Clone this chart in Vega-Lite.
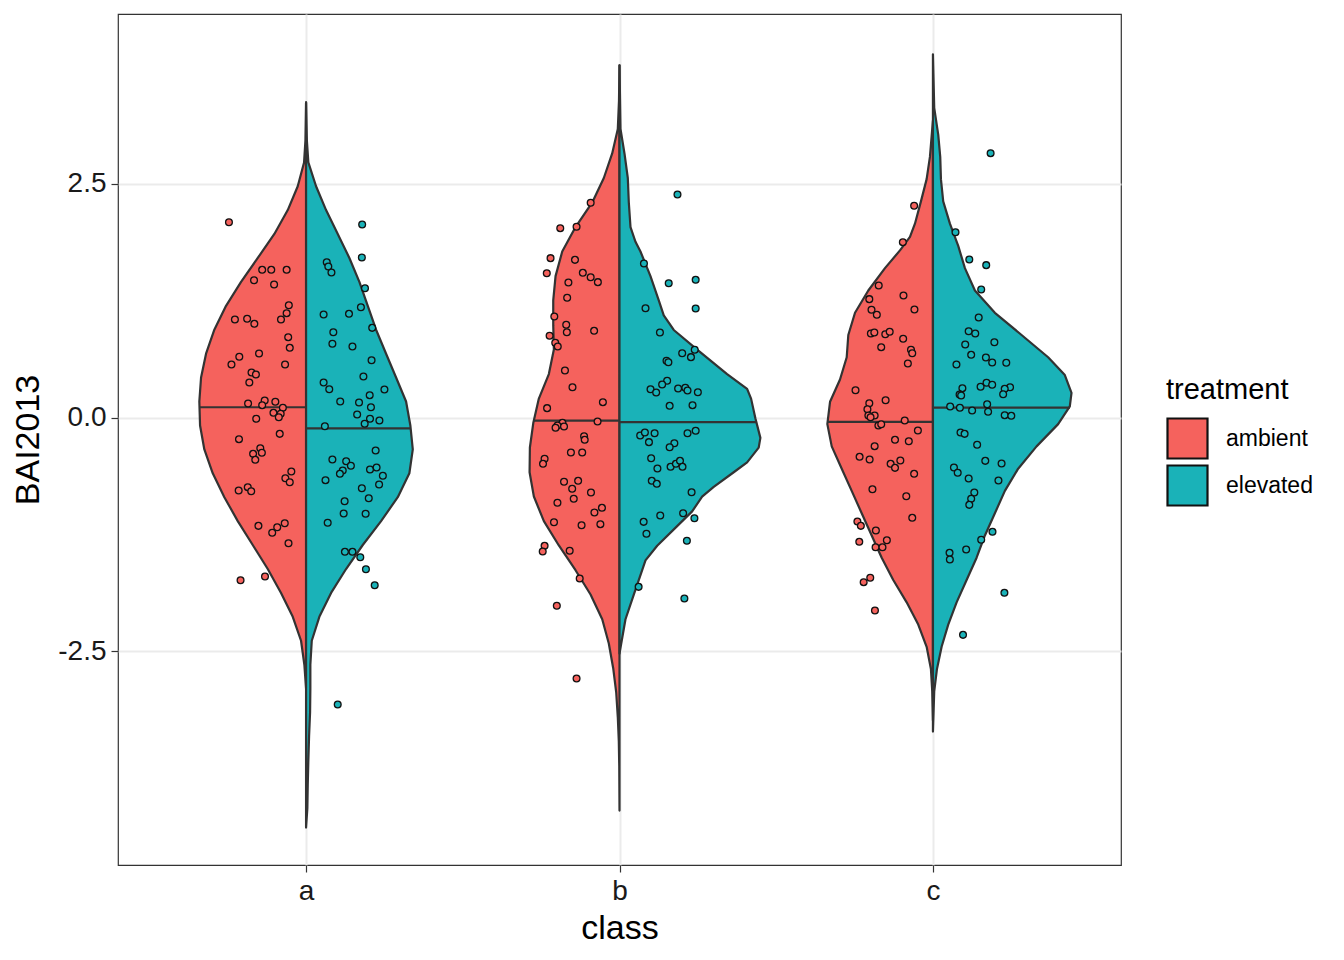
{
  "$schema": "https://vega.github.io/schema/vega-lite/v6.json",
  "width": 1003,
  "height": 851,
  "autosize": "none",
  "padding": {"left": 118, "top": 14, "right": 223, "bottom": 95},
  "background": "white",
  "config": {
    "font": "Liberation Sans",
    "view": {"stroke": "#333333", "strokeWidth": 1.2},
    "axis": {
      "grid": true,
      "gridColor": "#EBEBEB",
      "gridWidth": 2,
      "domain": false,
      "tickColor": "#333333",
      "tickSize": 7,
      "tickWidth": 1.2,
      "labelFontSize": 28,
      "labelColor": "#1a1a1a",
      "titleFontSize": 34,
      "titleFontWeight": "normal",
      "titleColor": "#000000"
    }
  },
  "datasets": {
    "violin": [
      {"class": "a", "treatment": "ambient", "value": 3.373, "edge": 1.0, "centre": 1},
      {"class": "a", "treatment": "ambient", "value": 2.966, "edge": 0.998, "centre": 1},
      {"class": "a", "treatment": "ambient", "value": 2.730, "edge": 0.9936, "centre": 1},
      {"class": "a", "treatment": "ambient", "value": 2.476, "edge": 0.9735, "centre": 1},
      {"class": "a", "treatment": "ambient", "value": 2.221, "edge": 0.9416, "centre": 1},
      {"class": "a", "treatment": "ambient", "value": 1.965, "edge": 0.8989, "centre": 1},
      {"class": "a", "treatment": "ambient", "value": 1.708, "edge": 0.8459, "centre": 1},
      {"class": "a", "treatment": "ambient", "value": 1.452, "edge": 0.7926, "centre": 1},
      {"class": "a", "treatment": "ambient", "value": 1.196, "edge": 0.7447, "centre": 1},
      {"class": "a", "treatment": "ambient", "value": 0.940, "edge": 0.7074, "centre": 1},
      {"class": "a", "treatment": "ambient", "value": 0.683, "edge": 0.6809, "centre": 1},
      {"class": "a", "treatment": "ambient", "value": 0.428, "edge": 0.6650, "centre": 1},
      {"class": "a", "treatment": "ambient", "value": 0.171, "edge": 0.6595, "centre": 1},
      {"class": "a", "treatment": "ambient", "value": -0.086, "edge": 0.6618, "centre": 1},
      {"class": "a", "treatment": "ambient", "value": -0.342, "edge": 0.6755, "centre": 1},
      {"class": "a", "treatment": "ambient", "value": -0.597, "edge": 0.7023, "centre": 1},
      {"class": "a", "treatment": "ambient", "value": -0.853, "edge": 0.7393, "centre": 1},
      {"class": "a", "treatment": "ambient", "value": -1.109, "edge": 0.7821, "centre": 1},
      {"class": "a", "treatment": "ambient", "value": -1.365, "edge": 0.8299, "centre": 1},
      {"class": "a", "treatment": "ambient", "value": -1.622, "edge": 0.8778, "centre": 1},
      {"class": "a", "treatment": "ambient", "value": -1.878, "edge": 0.9202, "centre": 1},
      {"class": "a", "treatment": "ambient", "value": -2.134, "edge": 0.9576, "centre": 1},
      {"class": "a", "treatment": "ambient", "value": -2.390, "edge": 0.9840, "centre": 1},
      {"class": "a", "treatment": "ambient", "value": -2.647, "edge": 0.9946, "centre": 1},
      {"class": "a", "treatment": "ambient", "value": -2.902, "edge": 1.0, "centre": 1},
      {"class": "a", "treatment": "elevated", "value": 3.373, "edge": 1.0, "centre": 1},
      {"class": "a", "treatment": "elevated", "value": 2.966, "edge": 1.0026, "centre": 1},
      {"class": "a", "treatment": "elevated", "value": 2.732, "edge": 1.0073, "centre": 1},
      {"class": "a", "treatment": "elevated", "value": 2.476, "edge": 1.0319, "centre": 1},
      {"class": "a", "treatment": "elevated", "value": 2.221, "edge": 1.0638, "centre": 1},
      {"class": "a", "treatment": "elevated", "value": 1.965, "edge": 1.1011, "centre": 1},
      {"class": "a", "treatment": "elevated", "value": 1.708, "edge": 1.1382, "centre": 1},
      {"class": "a", "treatment": "elevated", "value": 1.452, "edge": 1.1701, "centre": 1},
      {"class": "a", "treatment": "elevated", "value": 1.196, "edge": 1.1969, "centre": 1},
      {"class": "a", "treatment": "elevated", "value": 0.940, "edge": 1.2234, "centre": 1},
      {"class": "a", "treatment": "elevated", "value": 0.683, "edge": 1.2553, "centre": 1},
      {"class": "a", "treatment": "elevated", "value": 0.428, "edge": 1.2872, "centre": 1},
      {"class": "a", "treatment": "elevated", "value": 0.171, "edge": 1.3191, "centre": 1},
      {"class": "a", "treatment": "elevated", "value": -0.086, "edge": 1.3328, "centre": 1},
      {"class": "a", "treatment": "elevated", "value": -0.342, "edge": 1.3405, "centre": 1},
      {"class": "a", "treatment": "elevated", "value": -0.597, "edge": 1.3296, "centre": 1},
      {"class": "a", "treatment": "elevated", "value": -0.853, "edge": 1.2926, "centre": 1},
      {"class": "a", "treatment": "elevated", "value": -1.109, "edge": 1.2393, "centre": 1},
      {"class": "a", "treatment": "elevated", "value": -1.365, "edge": 1.1809, "centre": 1},
      {"class": "a", "treatment": "elevated", "value": -1.622, "edge": 1.1276, "centre": 1},
      {"class": "a", "treatment": "elevated", "value": -1.878, "edge": 1.0798, "centre": 1},
      {"class": "a", "treatment": "elevated", "value": -2.134, "edge": 1.0424, "centre": 1},
      {"class": "a", "treatment": "elevated", "value": -2.390, "edge": 1.0182, "centre": 1},
      {"class": "a", "treatment": "elevated", "value": -2.647, "edge": 1.0137, "centre": 1},
      {"class": "a", "treatment": "elevated", "value": -2.902, "edge": 1.0137, "centre": 1},
      {"class": "a", "treatment": "elevated", "value": -3.158, "edge": 1.0128, "centre": 1},
      {"class": "a", "treatment": "elevated", "value": -3.415, "edge": 1.0096, "centre": 1},
      {"class": "a", "treatment": "elevated", "value": -3.672, "edge": 1.0073, "centre": 1},
      {"class": "a", "treatment": "elevated", "value": -3.929, "edge": 1.0054, "centre": 1},
      {"class": "a", "treatment": "elevated", "value": -4.186, "edge": 1.0041, "centre": 1},
      {"class": "a", "treatment": "elevated", "value": -4.390, "edge": 1.0, "centre": 1},
      {"class": "b", "treatment": "ambient", "value": 3.771, "edge": 2.0, "centre": 2},
      {"class": "b", "treatment": "ambient", "value": 3.394, "edge": 1.9984, "centre": 2},
      {"class": "b", "treatment": "ambient", "value": 3.089, "edge": 1.9946, "centre": 2},
      {"class": "b", "treatment": "ambient", "value": 2.827, "edge": 1.9767, "centre": 2},
      {"class": "b", "treatment": "ambient", "value": 2.564, "edge": 1.9500, "centre": 2},
      {"class": "b", "treatment": "ambient", "value": 2.302, "edge": 1.9130, "centre": 2},
      {"class": "b", "treatment": "ambient", "value": 2.039, "edge": 1.8597, "centre": 2},
      {"class": "b", "treatment": "ambient", "value": 1.777, "edge": 1.8173, "centre": 2},
      {"class": "b", "treatment": "ambient", "value": 1.514, "edge": 1.7960, "centre": 2},
      {"class": "b", "treatment": "ambient", "value": 1.253, "edge": 1.7886, "centre": 2},
      {"class": "b", "treatment": "ambient", "value": 0.989, "edge": 1.7886, "centre": 2},
      {"class": "b", "treatment": "ambient", "value": 0.728, "edge": 1.7906, "centre": 2},
      {"class": "b", "treatment": "ambient", "value": 0.465, "edge": 1.7746, "centre": 2},
      {"class": "b", "treatment": "ambient", "value": 0.203, "edge": 1.7427, "centre": 2},
      {"class": "b", "treatment": "ambient", "value": -0.060, "edge": 1.7249, "centre": 2},
      {"class": "b", "treatment": "ambient", "value": -0.321, "edge": 1.7141, "centre": 2},
      {"class": "b", "treatment": "ambient", "value": -0.586, "edge": 1.7131, "centre": 2},
      {"class": "b", "treatment": "ambient", "value": -0.846, "edge": 1.7268, "centre": 2},
      {"class": "b", "treatment": "ambient", "value": -1.110, "edge": 1.7587, "centre": 2},
      {"class": "b", "treatment": "ambient", "value": -1.370, "edge": 1.8065, "centre": 2},
      {"class": "b", "treatment": "ambient", "value": -1.635, "edge": 1.8597, "centre": 2},
      {"class": "b", "treatment": "ambient", "value": -1.895, "edge": 1.9076, "centre": 2},
      {"class": "b", "treatment": "ambient", "value": -2.159, "edge": 1.9449, "centre": 2},
      {"class": "b", "treatment": "ambient", "value": -2.420, "edge": 1.9659, "centre": 2},
      {"class": "b", "treatment": "ambient", "value": -2.684, "edge": 1.9799, "centre": 2},
      {"class": "b", "treatment": "ambient", "value": -2.944, "edge": 1.9895, "centre": 2},
      {"class": "b", "treatment": "ambient", "value": -3.210, "edge": 1.9946, "centre": 2},
      {"class": "b", "treatment": "ambient", "value": -3.469, "edge": 1.9978, "centre": 2},
      {"class": "b", "treatment": "ambient", "value": -3.734, "edge": 1.9992, "centre": 2},
      {"class": "b", "treatment": "ambient", "value": -4.208, "edge": 2.0, "centre": 2},
      {"class": "b", "treatment": "elevated", "value": 3.771, "edge": 2.0, "centre": 2},
      {"class": "b", "treatment": "elevated", "value": 3.089, "edge": 2.0032, "centre": 2},
      {"class": "b", "treatment": "elevated", "value": 2.827, "edge": 2.0159, "centre": 2},
      {"class": "b", "treatment": "elevated", "value": 2.564, "edge": 2.0265, "centre": 2},
      {"class": "b", "treatment": "elevated", "value": 2.302, "edge": 2.0297, "centre": 2},
      {"class": "b", "treatment": "elevated", "value": 2.039, "edge": 2.0351, "centre": 2},
      {"class": "b", "treatment": "elevated", "value": 1.881, "edge": 2.0510, "centre": 2},
      {"class": "b", "treatment": "elevated", "value": 1.777, "edge": 2.0669, "centre": 2},
      {"class": "b", "treatment": "elevated", "value": 1.514, "edge": 2.0988, "centre": 2},
      {"class": "b", "treatment": "elevated", "value": 1.253, "edge": 2.1253, "centre": 2},
      {"class": "b", "treatment": "elevated", "value": 1.094, "edge": 2.1412, "centre": 2},
      {"class": "b", "treatment": "elevated", "value": 0.937, "edge": 2.1731, "centre": 2},
      {"class": "b", "treatment": "elevated", "value": 0.727, "edge": 2.2477, "centre": 2},
      {"class": "b", "treatment": "elevated", "value": 0.465, "edge": 2.3433, "centre": 2},
      {"class": "b", "treatment": "elevated", "value": 0.307, "edge": 2.4071, "centre": 2},
      {"class": "b", "treatment": "elevated", "value": 0.202, "edge": 2.4198, "centre": 2},
      {"class": "b", "treatment": "elevated", "value": -0.007, "edge": 2.4335, "centre": 2},
      {"class": "b", "treatment": "elevated", "value": -0.218, "edge": 2.4495, "centre": 2},
      {"class": "b", "treatment": "elevated", "value": -0.323, "edge": 2.4441, "centre": 2},
      {"class": "b", "treatment": "elevated", "value": -0.481, "edge": 2.4071, "centre": 2},
      {"class": "b", "treatment": "elevated", "value": -0.586, "edge": 2.3644, "centre": 2},
      {"class": "b", "treatment": "elevated", "value": -0.743, "edge": 2.3006, "centre": 2},
      {"class": "b", "treatment": "elevated", "value": -0.848, "edge": 2.2636, "centre": 2},
      {"class": "b", "treatment": "elevated", "value": -1.005, "edge": 2.2318, "centre": 2},
      {"class": "b", "treatment": "elevated", "value": -1.163, "edge": 2.1839, "centre": 2},
      {"class": "b", "treatment": "elevated", "value": -1.373, "edge": 2.1202, "centre": 2},
      {"class": "b", "treatment": "elevated", "value": -1.530, "edge": 2.0829, "centre": 2},
      {"class": "b", "treatment": "elevated", "value": -1.687, "edge": 2.0669, "centre": 2},
      {"class": "b", "treatment": "elevated", "value": -1.897, "edge": 2.0456, "centre": 2},
      {"class": "b", "treatment": "elevated", "value": -2.160, "edge": 2.0191, "centre": 2},
      {"class": "b", "treatment": "elevated", "value": -2.422, "edge": 2.0054, "centre": 2},
      {"class": "b", "treatment": "elevated", "value": -2.527, "edge": 2.0, "centre": 2},
      {"class": "c", "treatment": "ambient", "value": 3.180, "edge": 3.0, "centre": 3},
      {"class": "c", "treatment": "ambient", "value": 2.790, "edge": 2.9904, "centre": 3},
      {"class": "c", "treatment": "ambient", "value": 2.552, "edge": 2.9799, "centre": 3},
      {"class": "c", "treatment": "ambient", "value": 2.314, "edge": 2.9617, "centre": 3},
      {"class": "c", "treatment": "ambient", "value": 2.075, "edge": 2.9426, "centre": 3},
      {"class": "c", "treatment": "ambient", "value": 1.933, "edge": 2.9267, "centre": 3},
      {"class": "c", "treatment": "ambient", "value": 1.789, "edge": 2.8948, "centre": 3},
      {"class": "c", "treatment": "ambient", "value": 1.599, "edge": 2.8470, "centre": 3},
      {"class": "c", "treatment": "ambient", "value": 1.360, "edge": 2.7938, "centre": 3},
      {"class": "c", "treatment": "ambient", "value": 1.121, "edge": 2.7514, "centre": 3},
      {"class": "c", "treatment": "ambient", "value": 0.883, "edge": 2.7300, "centre": 3},
      {"class": "c", "treatment": "ambient", "value": 0.645, "edge": 2.7249, "centre": 3},
      {"class": "c", "treatment": "ambient", "value": 0.407, "edge": 2.7035, "centre": 3},
      {"class": "c", "treatment": "ambient", "value": 0.168, "edge": 2.6717, "centre": 3},
      {"class": "c", "treatment": "ambient", "value": -0.071, "edge": 2.6631, "centre": 3},
      {"class": "c", "treatment": "ambient", "value": -0.309, "edge": 2.6771, "centre": 3},
      {"class": "c", "treatment": "ambient", "value": -0.548, "edge": 2.7090, "centre": 3},
      {"class": "c", "treatment": "ambient", "value": -0.786, "edge": 2.7408, "centre": 3},
      {"class": "c", "treatment": "ambient", "value": -1.025, "edge": 2.7727, "centre": 3},
      {"class": "c", "treatment": "ambient", "value": -1.263, "edge": 2.8046, "centre": 3},
      {"class": "c", "treatment": "ambient", "value": -1.501, "edge": 2.8365, "centre": 3},
      {"class": "c", "treatment": "ambient", "value": -1.740, "edge": 2.8734, "centre": 3},
      {"class": "c", "treatment": "ambient", "value": -1.979, "edge": 2.9162, "centre": 3},
      {"class": "c", "treatment": "ambient", "value": -2.217, "edge": 2.9531, "centre": 3},
      {"class": "c", "treatment": "ambient", "value": -2.455, "edge": 2.9799, "centre": 3},
      {"class": "c", "treatment": "ambient", "value": -2.694, "edge": 2.9936, "centre": 3},
      {"class": "c", "treatment": "ambient", "value": -2.933, "edge": 2.9978, "centre": 3},
      {"class": "c", "treatment": "ambient", "value": -3.244, "edge": 3.0, "centre": 3},
      {"class": "c", "treatment": "elevated", "value": 3.888, "edge": 3.0, "centre": 3},
      {"class": "c", "treatment": "elevated", "value": 3.315, "edge": 3.0041, "centre": 3},
      {"class": "c", "treatment": "elevated", "value": 3.029, "edge": 3.0169, "centre": 3},
      {"class": "c", "treatment": "elevated", "value": 2.790, "edge": 3.0233, "centre": 3},
      {"class": "c", "treatment": "elevated", "value": 2.552, "edge": 3.0255, "centre": 3},
      {"class": "c", "treatment": "elevated", "value": 2.314, "edge": 3.0328, "centre": 3},
      {"class": "c", "treatment": "elevated", "value": 2.075, "edge": 3.0542, "centre": 3},
      {"class": "c", "treatment": "elevated", "value": 1.837, "edge": 3.0807, "centre": 3},
      {"class": "c", "treatment": "elevated", "value": 1.599, "edge": 3.1020, "centre": 3},
      {"class": "c", "treatment": "elevated", "value": 1.360, "edge": 3.1339, "centre": 3},
      {"class": "c", "treatment": "elevated", "value": 1.121, "edge": 3.1976, "centre": 3},
      {"class": "c", "treatment": "elevated", "value": 0.883, "edge": 3.2828, "centre": 3},
      {"class": "c", "treatment": "elevated", "value": 0.645, "edge": 3.3675, "centre": 3},
      {"class": "c", "treatment": "elevated", "value": 0.454, "edge": 3.4208, "centre": 3},
      {"class": "c", "treatment": "elevated", "value": 0.263, "edge": 3.4421, "centre": 3},
      {"class": "c", "treatment": "elevated", "value": 0.120, "edge": 3.4367, "centre": 3},
      {"class": "c", "treatment": "elevated", "value": -0.071, "edge": 3.3994, "centre": 3},
      {"class": "c", "treatment": "elevated", "value": -0.309, "edge": 3.3306, "centre": 3},
      {"class": "c", "treatment": "elevated", "value": -0.548, "edge": 3.2719, "centre": 3},
      {"class": "c", "treatment": "elevated", "value": -0.786, "edge": 3.2295, "centre": 3},
      {"class": "c", "treatment": "elevated", "value": -1.025, "edge": 3.1976, "centre": 3},
      {"class": "c", "treatment": "elevated", "value": -1.263, "edge": 3.1658, "centre": 3},
      {"class": "c", "treatment": "elevated", "value": -1.501, "edge": 3.1393, "centre": 3},
      {"class": "c", "treatment": "elevated", "value": -1.740, "edge": 3.1074, "centre": 3},
      {"class": "c", "treatment": "elevated", "value": -1.979, "edge": 3.0755, "centre": 3},
      {"class": "c", "treatment": "elevated", "value": -2.217, "edge": 3.0488, "centre": 3},
      {"class": "c", "treatment": "elevated", "value": -2.455, "edge": 3.0277, "centre": 3},
      {"class": "c", "treatment": "elevated", "value": -2.694, "edge": 3.0128, "centre": 3},
      {"class": "c", "treatment": "elevated", "value": -2.933, "edge": 3.0041, "centre": 3},
      {"class": "c", "treatment": "elevated", "value": -3.362, "edge": 3.0, "centre": 3}
    ],
    "medians": [
      {"class": "a", "treatment": "ambient", "value": 0.110, "edge": 0.660, "centre": 1},
      {"class": "a", "treatment": "elevated", "value": -0.116, "edge": 1.334, "centre": 1},
      {"class": "b", "treatment": "ambient", "value": -0.034, "edge": 1.727, "centre": 2},
      {"class": "b", "treatment": "elevated", "value": -0.050, "edge": 2.436, "centre": 2},
      {"class": "c", "treatment": "ambient", "value": -0.047, "edge": 2.664, "centre": 3},
      {"class": "c", "treatment": "elevated", "value": 0.106, "edge": 3.437, "centre": 3}
    ],
    "points": [
      {"class": "a", "treatment": "ambient", "x": 0.754, "value": 2.091},
      {"class": "a", "treatment": "ambient", "x": 0.860, "value": 1.581},
      {"class": "a", "treatment": "ambient", "x": 0.889, "value": 1.581},
      {"class": "a", "treatment": "ambient", "x": 0.938, "value": 1.581},
      {"class": "a", "treatment": "ambient", "x": 0.834, "value": 1.470},
      {"class": "a", "treatment": "ambient", "x": 0.898, "value": 1.424},
      {"class": "a", "treatment": "ambient", "x": 0.945, "value": 1.202},
      {"class": "a", "treatment": "ambient", "x": 0.938, "value": 1.117},
      {"class": "a", "treatment": "ambient", "x": 0.920, "value": 1.049},
      {"class": "a", "treatment": "ambient", "x": 0.773, "value": 1.049},
      {"class": "a", "treatment": "ambient", "x": 0.812, "value": 1.057},
      {"class": "a", "treatment": "ambient", "x": 0.835, "value": 1.003},
      {"class": "a", "treatment": "ambient", "x": 0.943, "value": 0.860},
      {"class": "a", "treatment": "ambient", "x": 0.948, "value": 0.746},
      {"class": "a", "treatment": "ambient", "x": 0.850, "value": 0.685},
      {"class": "a", "treatment": "ambient", "x": 0.787, "value": 0.650},
      {"class": "a", "treatment": "ambient", "x": 0.762, "value": 0.567},
      {"class": "a", "treatment": "ambient", "x": 0.933, "value": 0.567},
      {"class": "a", "treatment": "ambient", "x": 0.826, "value": 0.482},
      {"class": "a", "treatment": "ambient", "x": 0.840, "value": 0.460},
      {"class": "a", "treatment": "ambient", "x": 0.819, "value": 0.375},
      {"class": "a", "treatment": "ambient", "x": 0.815, "value": 0.150},
      {"class": "a", "treatment": "ambient", "x": 0.868, "value": 0.182},
      {"class": "a", "treatment": "ambient", "x": 0.860, "value": 0.132},
      {"class": "a", "treatment": "ambient", "x": 0.902, "value": 0.168},
      {"class": "a", "treatment": "ambient", "x": 0.926, "value": 0.104},
      {"class": "a", "treatment": "ambient", "x": 0.896, "value": 0.050},
      {"class": "a", "treatment": "ambient", "x": 0.919, "value": 0.040},
      {"class": "a", "treatment": "ambient", "x": 0.913, "value": 0.003},
      {"class": "a", "treatment": "ambient", "x": 0.841, "value": -0.014},
      {"class": "a", "treatment": "ambient", "x": 0.916, "value": -0.175},
      {"class": "a", "treatment": "ambient", "x": 0.786, "value": -0.232},
      {"class": "a", "treatment": "ambient", "x": 0.854, "value": -0.329},
      {"class": "a", "treatment": "ambient", "x": 0.831, "value": -0.389},
      {"class": "a", "treatment": "ambient", "x": 0.859, "value": -0.378},
      {"class": "a", "treatment": "ambient", "x": 0.838, "value": -0.453},
      {"class": "a", "treatment": "ambient", "x": 0.953, "value": -0.578},
      {"class": "a", "treatment": "ambient", "x": 0.934, "value": -0.650},
      {"class": "a", "treatment": "ambient", "x": 0.948, "value": -0.693},
      {"class": "a", "treatment": "ambient", "x": 0.814, "value": -0.746},
      {"class": "a", "treatment": "ambient", "x": 0.785, "value": -0.782},
      {"class": "a", "treatment": "ambient", "x": 0.825, "value": -0.789},
      {"class": "a", "treatment": "ambient", "x": 0.932, "value": -1.132},
      {"class": "a", "treatment": "ambient", "x": 0.848, "value": -1.160},
      {"class": "a", "treatment": "ambient", "x": 0.908, "value": -1.175},
      {"class": "a", "treatment": "ambient", "x": 0.892, "value": -1.234},
      {"class": "a", "treatment": "ambient", "x": 0.944, "value": -1.346},
      {"class": "a", "treatment": "ambient", "x": 0.791, "value": -1.742},
      {"class": "a", "treatment": "ambient", "x": 0.869, "value": -1.702},
      {"class": "a", "treatment": "elevated", "x": 1.179, "value": 2.066},
      {"class": "a", "treatment": "elevated", "x": 1.178, "value": 1.713},
      {"class": "a", "treatment": "elevated", "x": 1.066, "value": 1.663},
      {"class": "a", "treatment": "elevated", "x": 1.071, "value": 1.617},
      {"class": "a", "treatment": "elevated", "x": 1.081, "value": 1.552},
      {"class": "a", "treatment": "elevated", "x": 1.188, "value": 1.384},
      {"class": "a", "treatment": "elevated", "x": 1.175, "value": 1.181},
      {"class": "a", "treatment": "elevated", "x": 1.056, "value": 1.103},
      {"class": "a", "treatment": "elevated", "x": 1.137, "value": 1.110},
      {"class": "a", "treatment": "elevated", "x": 1.211, "value": 0.960},
      {"class": "a", "treatment": "elevated", "x": 1.087, "value": 0.913},
      {"class": "a", "treatment": "elevated", "x": 1.084, "value": 0.789},
      {"class": "a", "treatment": "elevated", "x": 1.148, "value": 0.760},
      {"class": "a", "treatment": "elevated", "x": 1.209, "value": 0.613},
      {"class": "a", "treatment": "elevated", "x": 1.183, "value": 0.439},
      {"class": "a", "treatment": "elevated", "x": 1.056, "value": 0.375},
      {"class": "a", "treatment": "elevated", "x": 1.074, "value": 0.303},
      {"class": "a", "treatment": "elevated", "x": 1.250, "value": 0.300},
      {"class": "a", "treatment": "elevated", "x": 1.203, "value": 0.239},
      {"class": "a", "treatment": "elevated", "x": 1.109, "value": 0.171},
      {"class": "a", "treatment": "elevated", "x": 1.169, "value": 0.161},
      {"class": "a", "treatment": "elevated", "x": 1.207, "value": 0.110},
      {"class": "a", "treatment": "elevated", "x": 1.163, "value": 0.032},
      {"class": "a", "treatment": "elevated", "x": 1.204, "value": -0.014},
      {"class": "a", "treatment": "elevated", "x": 1.234, "value": -0.032},
      {"class": "a", "treatment": "elevated", "x": 1.187, "value": -0.067},
      {"class": "a", "treatment": "elevated", "x": 1.060, "value": -0.093},
      {"class": "a", "treatment": "elevated", "x": 1.222, "value": -0.353},
      {"class": "a", "treatment": "elevated", "x": 1.084, "value": -0.450},
      {"class": "a", "treatment": "elevated", "x": 1.128, "value": -0.468},
      {"class": "a", "treatment": "elevated", "x": 1.143, "value": -0.517},
      {"class": "a", "treatment": "elevated", "x": 1.117, "value": -0.567},
      {"class": "a", "treatment": "elevated", "x": 1.108, "value": -0.603},
      {"class": "a", "treatment": "elevated", "x": 1.204, "value": -0.557},
      {"class": "a", "treatment": "elevated", "x": 1.225, "value": -0.535},
      {"class": "a", "treatment": "elevated", "x": 1.245, "value": -0.624},
      {"class": "a", "treatment": "elevated", "x": 1.233, "value": -0.717},
      {"class": "a", "treatment": "elevated", "x": 1.062, "value": -0.671},
      {"class": "a", "treatment": "elevated", "x": 1.178, "value": -0.757},
      {"class": "a", "treatment": "elevated", "x": 1.200, "value": -0.864},
      {"class": "a", "treatment": "elevated", "x": 1.123, "value": -0.896},
      {"class": "a", "treatment": "elevated", "x": 1.120, "value": -1.028},
      {"class": "a", "treatment": "elevated", "x": 1.190, "value": -1.031},
      {"class": "a", "treatment": "elevated", "x": 1.069, "value": -1.127},
      {"class": "a", "treatment": "elevated", "x": 1.124, "value": -1.438},
      {"class": "a", "treatment": "elevated", "x": 1.148, "value": -1.438},
      {"class": "a", "treatment": "elevated", "x": 1.173, "value": -1.496},
      {"class": "a", "treatment": "elevated", "x": 1.191, "value": -1.624},
      {"class": "a", "treatment": "elevated", "x": 1.219, "value": -1.796},
      {"class": "a", "treatment": "elevated", "x": 1.101, "value": -3.073},
      {"class": "b", "treatment": "ambient", "x": 1.908, "value": 2.299},
      {"class": "b", "treatment": "ambient", "x": 1.811, "value": 2.027},
      {"class": "b", "treatment": "ambient", "x": 1.863, "value": 2.042},
      {"class": "b", "treatment": "ambient", "x": 1.780, "value": 1.706},
      {"class": "b", "treatment": "ambient", "x": 1.858, "value": 1.688},
      {"class": "b", "treatment": "ambient", "x": 1.768, "value": 1.545},
      {"class": "b", "treatment": "ambient", "x": 1.883, "value": 1.549},
      {"class": "b", "treatment": "ambient", "x": 1.908, "value": 1.502},
      {"class": "b", "treatment": "ambient", "x": 1.931, "value": 1.449},
      {"class": "b", "treatment": "ambient", "x": 1.837, "value": 1.445},
      {"class": "b", "treatment": "ambient", "x": 1.833, "value": 1.282},
      {"class": "b", "treatment": "ambient", "x": 1.792, "value": 1.081},
      {"class": "b", "treatment": "ambient", "x": 1.830, "value": 0.993},
      {"class": "b", "treatment": "ambient", "x": 1.832, "value": 0.913},
      {"class": "b", "treatment": "ambient", "x": 1.919, "value": 0.928},
      {"class": "b", "treatment": "ambient", "x": 1.777, "value": 0.875},
      {"class": "b", "treatment": "ambient", "x": 1.795, "value": 0.800},
      {"class": "b", "treatment": "ambient", "x": 1.803, "value": 0.760},
      {"class": "b", "treatment": "ambient", "x": 1.826, "value": 0.503},
      {"class": "b", "treatment": "ambient", "x": 1.850, "value": 0.324},
      {"class": "b", "treatment": "ambient", "x": 1.947, "value": 0.164},
      {"class": "b", "treatment": "ambient", "x": 1.769, "value": 0.100},
      {"class": "b", "treatment": "ambient", "x": 1.930, "value": -0.043},
      {"class": "b", "treatment": "ambient", "x": 1.818, "value": -0.057},
      {"class": "b", "treatment": "ambient", "x": 1.802, "value": -0.086},
      {"class": "b", "treatment": "ambient", "x": 1.796, "value": -0.110},
      {"class": "b", "treatment": "ambient", "x": 1.823, "value": -0.096},
      {"class": "b", "treatment": "ambient", "x": 1.887, "value": -0.200},
      {"class": "b", "treatment": "ambient", "x": 1.889, "value": -0.239},
      {"class": "b", "treatment": "ambient", "x": 1.845, "value": -0.375},
      {"class": "b", "treatment": "ambient", "x": 1.881, "value": -0.375},
      {"class": "b", "treatment": "ambient", "x": 1.761, "value": -0.442},
      {"class": "b", "treatment": "ambient", "x": 1.756, "value": -0.496},
      {"class": "b", "treatment": "ambient", "x": 1.823, "value": -0.688},
      {"class": "b", "treatment": "ambient", "x": 1.868, "value": -0.678},
      {"class": "b", "treatment": "ambient", "x": 1.849, "value": -0.763},
      {"class": "b", "treatment": "ambient", "x": 1.909, "value": -0.803},
      {"class": "b", "treatment": "ambient", "x": 1.854, "value": -0.870},
      {"class": "b", "treatment": "ambient", "x": 1.802, "value": -0.913},
      {"class": "b", "treatment": "ambient", "x": 1.944, "value": -0.967},
      {"class": "b", "treatment": "ambient", "x": 1.920, "value": -1.017},
      {"class": "b", "treatment": "ambient", "x": 1.791, "value": -1.121},
      {"class": "b", "treatment": "ambient", "x": 1.879, "value": -1.153},
      {"class": "b", "treatment": "ambient", "x": 1.939, "value": -1.142},
      {"class": "b", "treatment": "ambient", "x": 1.761, "value": -1.374},
      {"class": "b", "treatment": "ambient", "x": 1.755, "value": -1.435},
      {"class": "b", "treatment": "ambient", "x": 1.841, "value": -1.427},
      {"class": "b", "treatment": "ambient", "x": 1.873, "value": -1.724},
      {"class": "b", "treatment": "ambient", "x": 1.800, "value": -2.016},
      {"class": "b", "treatment": "ambient", "x": 1.863, "value": -2.794},
      {"class": "b", "treatment": "elevated", "x": 2.185, "value": 2.388},
      {"class": "b", "treatment": "elevated", "x": 2.078, "value": 1.649},
      {"class": "b", "treatment": "elevated", "x": 2.157, "value": 1.438},
      {"class": "b", "treatment": "elevated", "x": 2.243, "value": 1.474},
      {"class": "b", "treatment": "elevated", "x": 2.083, "value": 1.170},
      {"class": "b", "treatment": "elevated", "x": 2.243, "value": 1.167},
      {"class": "b", "treatment": "elevated", "x": 2.129, "value": 0.910},
      {"class": "b", "treatment": "elevated", "x": 2.240, "value": 0.725},
      {"class": "b", "treatment": "elevated", "x": 2.200, "value": 0.688},
      {"class": "b", "treatment": "elevated", "x": 2.228, "value": 0.646},
      {"class": "b", "treatment": "elevated", "x": 2.150, "value": 0.607},
      {"class": "b", "treatment": "elevated", "x": 2.156, "value": 0.592},
      {"class": "b", "treatment": "elevated", "x": 2.152, "value": 0.393},
      {"class": "b", "treatment": "elevated", "x": 2.136, "value": 0.353},
      {"class": "b", "treatment": "elevated", "x": 2.099, "value": 0.303},
      {"class": "b", "treatment": "elevated", "x": 2.117, "value": 0.268},
      {"class": "b", "treatment": "elevated", "x": 2.187, "value": 0.310},
      {"class": "b", "treatment": "elevated", "x": 2.210, "value": 0.318},
      {"class": "b", "treatment": "elevated", "x": 2.217, "value": 0.289},
      {"class": "b", "treatment": "elevated", "x": 2.250, "value": 0.270},
      {"class": "b", "treatment": "elevated", "x": 2.160, "value": 0.125},
      {"class": "b", "treatment": "elevated", "x": 2.233, "value": 0.132},
      {"class": "b", "treatment": "elevated", "x": 2.066, "value": -0.193},
      {"class": "b", "treatment": "elevated", "x": 2.081, "value": -0.161},
      {"class": "b", "treatment": "elevated", "x": 2.112, "value": -0.168},
      {"class": "b", "treatment": "elevated", "x": 2.094, "value": -0.264},
      {"class": "b", "treatment": "elevated", "x": 2.217, "value": -0.168},
      {"class": "b", "treatment": "elevated", "x": 2.243, "value": -0.142},
      {"class": "b", "treatment": "elevated", "x": 2.175, "value": -0.275},
      {"class": "b", "treatment": "elevated", "x": 2.160, "value": -0.318},
      {"class": "b", "treatment": "elevated", "x": 2.101, "value": -0.436},
      {"class": "b", "treatment": "elevated", "x": 2.121, "value": -0.546},
      {"class": "b", "treatment": "elevated", "x": 2.163, "value": -0.528},
      {"class": "b", "treatment": "elevated", "x": 2.180, "value": -0.496},
      {"class": "b", "treatment": "elevated", "x": 2.193, "value": -0.464},
      {"class": "b", "treatment": "elevated", "x": 2.201, "value": -0.528},
      {"class": "b", "treatment": "elevated", "x": 2.103, "value": -0.678},
      {"class": "b", "treatment": "elevated", "x": 2.119, "value": -0.710},
      {"class": "b", "treatment": "elevated", "x": 2.230, "value": -0.800},
      {"class": "b", "treatment": "elevated", "x": 2.130, "value": -1.049},
      {"class": "b", "treatment": "elevated", "x": 2.203, "value": -1.025},
      {"class": "b", "treatment": "elevated", "x": 2.239, "value": -1.078},
      {"class": "b", "treatment": "elevated", "x": 2.077, "value": -1.117},
      {"class": "b", "treatment": "elevated", "x": 2.086, "value": -1.245},
      {"class": "b", "treatment": "elevated", "x": 2.215, "value": -1.320},
      {"class": "b", "treatment": "elevated", "x": 2.061, "value": -1.813},
      {"class": "b", "treatment": "elevated", "x": 2.207, "value": -1.938},
      {"class": "c", "treatment": "ambient", "x": 2.940, "value": 2.267},
      {"class": "c", "treatment": "ambient", "x": 2.904, "value": 1.877},
      {"class": "c", "treatment": "ambient", "x": 2.827, "value": 1.413},
      {"class": "c", "treatment": "ambient", "x": 2.797, "value": 1.267},
      {"class": "c", "treatment": "ambient", "x": 2.906, "value": 1.306},
      {"class": "c", "treatment": "ambient", "x": 2.941, "value": 1.156},
      {"class": "c", "treatment": "ambient", "x": 2.804, "value": 1.153},
      {"class": "c", "treatment": "ambient", "x": 2.821, "value": 1.100},
      {"class": "c", "treatment": "ambient", "x": 2.802, "value": 0.899},
      {"class": "c", "treatment": "ambient", "x": 2.813, "value": 0.910},
      {"class": "c", "treatment": "ambient", "x": 2.848, "value": 0.892},
      {"class": "c", "treatment": "ambient", "x": 2.862, "value": 0.918},
      {"class": "c", "treatment": "ambient", "x": 2.905, "value": 0.843},
      {"class": "c", "treatment": "ambient", "x": 2.835, "value": 0.753},
      {"class": "c", "treatment": "ambient", "x": 2.930, "value": 0.725},
      {"class": "c", "treatment": "ambient", "x": 2.934, "value": 0.688},
      {"class": "c", "treatment": "ambient", "x": 2.920, "value": 0.578},
      {"class": "c", "treatment": "ambient", "x": 2.753, "value": 0.292},
      {"class": "c", "treatment": "ambient", "x": 2.797, "value": 0.153},
      {"class": "c", "treatment": "ambient", "x": 2.849, "value": 0.185},
      {"class": "c", "treatment": "ambient", "x": 2.791, "value": 0.089},
      {"class": "c", "treatment": "ambient", "x": 2.794, "value": 0.021},
      {"class": "c", "treatment": "ambient", "x": 2.814, "value": 0.021},
      {"class": "c", "treatment": "ambient", "x": 2.801, "value": 0.003},
      {"class": "c", "treatment": "ambient", "x": 2.910, "value": -0.032},
      {"class": "c", "treatment": "ambient", "x": 2.826, "value": -0.086},
      {"class": "c", "treatment": "ambient", "x": 2.835, "value": -0.072},
      {"class": "c", "treatment": "ambient", "x": 2.952, "value": -0.139},
      {"class": "c", "treatment": "ambient", "x": 2.879, "value": -0.239},
      {"class": "c", "treatment": "ambient", "x": 2.923, "value": -0.254},
      {"class": "c", "treatment": "ambient", "x": 2.814, "value": -0.307},
      {"class": "c", "treatment": "ambient", "x": 2.766, "value": -0.421},
      {"class": "c", "treatment": "ambient", "x": 2.798, "value": -0.450},
      {"class": "c", "treatment": "ambient", "x": 2.865, "value": -0.496},
      {"class": "c", "treatment": "ambient", "x": 2.879, "value": -0.539},
      {"class": "c", "treatment": "ambient", "x": 2.896, "value": -0.460},
      {"class": "c", "treatment": "ambient", "x": 2.940, "value": -0.603},
      {"class": "c", "treatment": "ambient", "x": 2.807, "value": -0.768},
      {"class": "c", "treatment": "ambient", "x": 2.915, "value": -0.843},
      {"class": "c", "treatment": "ambient", "x": 2.934, "value": -1.074},
      {"class": "c", "treatment": "ambient", "x": 2.759, "value": -1.113},
      {"class": "c", "treatment": "ambient", "x": 2.770, "value": -1.160},
      {"class": "c", "treatment": "ambient", "x": 2.818, "value": -1.210},
      {"class": "c", "treatment": "ambient", "x": 2.853, "value": -1.314},
      {"class": "c", "treatment": "ambient", "x": 2.765, "value": -1.331},
      {"class": "c", "treatment": "ambient", "x": 2.817, "value": -1.389},
      {"class": "c", "treatment": "ambient", "x": 2.839, "value": -1.389},
      {"class": "c", "treatment": "ambient", "x": 2.800, "value": -1.716},
      {"class": "c", "treatment": "ambient", "x": 2.779, "value": -1.763},
      {"class": "c", "treatment": "ambient", "x": 2.815, "value": -2.066},
      {"class": "c", "treatment": "elevated", "x": 3.184, "value": 2.830},
      {"class": "c", "treatment": "elevated", "x": 3.072, "value": 1.984},
      {"class": "c", "treatment": "elevated", "x": 3.116, "value": 1.692},
      {"class": "c", "treatment": "elevated", "x": 3.170, "value": 1.631},
      {"class": "c", "treatment": "elevated", "x": 3.154, "value": 1.370},
      {"class": "c", "treatment": "elevated", "x": 3.146, "value": 1.071},
      {"class": "c", "treatment": "elevated", "x": 3.114, "value": 0.924},
      {"class": "c", "treatment": "elevated", "x": 3.135, "value": 0.899},
      {"class": "c", "treatment": "elevated", "x": 3.103, "value": 0.782},
      {"class": "c", "treatment": "elevated", "x": 3.196, "value": 0.806},
      {"class": "c", "treatment": "elevated", "x": 3.122, "value": 0.671},
      {"class": "c", "treatment": "elevated", "x": 3.169, "value": 0.642},
      {"class": "c", "treatment": "elevated", "x": 3.189, "value": 0.589},
      {"class": "c", "treatment": "elevated", "x": 3.234, "value": 0.586},
      {"class": "c", "treatment": "elevated", "x": 3.075, "value": 0.567},
      {"class": "c", "treatment": "elevated", "x": 3.094, "value": 0.314},
      {"class": "c", "treatment": "elevated", "x": 3.085, "value": 0.246},
      {"class": "c", "treatment": "elevated", "x": 3.090, "value": 0.236},
      {"class": "c", "treatment": "elevated", "x": 3.152, "value": 0.329},
      {"class": "c", "treatment": "elevated", "x": 3.171, "value": 0.372},
      {"class": "c", "treatment": "elevated", "x": 3.189, "value": 0.350},
      {"class": "c", "treatment": "elevated", "x": 3.246, "value": 0.324},
      {"class": "c", "treatment": "elevated", "x": 3.229, "value": 0.307},
      {"class": "c", "treatment": "elevated", "x": 3.224, "value": 0.249},
      {"class": "c", "treatment": "elevated", "x": 3.055, "value": 0.118},
      {"class": "c", "treatment": "elevated", "x": 3.086, "value": 0.104},
      {"class": "c", "treatment": "elevated", "x": 3.125, "value": 0.075},
      {"class": "c", "treatment": "elevated", "x": 3.173, "value": 0.142},
      {"class": "c", "treatment": "elevated", "x": 3.176, "value": 0.061},
      {"class": "c", "treatment": "elevated", "x": 3.229, "value": 0.025},
      {"class": "c", "treatment": "elevated", "x": 3.250, "value": 0.018},
      {"class": "c", "treatment": "elevated", "x": 3.088, "value": -0.161},
      {"class": "c", "treatment": "elevated", "x": 3.101, "value": -0.175},
      {"class": "c", "treatment": "elevated", "x": 3.141, "value": -0.292},
      {"class": "c", "treatment": "elevated", "x": 3.167, "value": -0.464},
      {"class": "c", "treatment": "elevated", "x": 3.219, "value": -0.493},
      {"class": "c", "treatment": "elevated", "x": 3.067, "value": -0.535},
      {"class": "c", "treatment": "elevated", "x": 3.079, "value": -0.592},
      {"class": "c", "treatment": "elevated", "x": 3.114, "value": -0.653},
      {"class": "c", "treatment": "elevated", "x": 3.209, "value": -0.675},
      {"class": "c", "treatment": "elevated", "x": 3.132, "value": -0.803},
      {"class": "c", "treatment": "elevated", "x": 3.122, "value": -0.870},
      {"class": "c", "treatment": "elevated", "x": 3.116, "value": -0.935},
      {"class": "c", "treatment": "elevated", "x": 3.190, "value": -1.224},
      {"class": "c", "treatment": "elevated", "x": 3.154, "value": -1.309},
      {"class": "c", "treatment": "elevated", "x": 3.106, "value": -1.413},
      {"class": "c", "treatment": "elevated", "x": 3.053, "value": -1.449},
      {"class": "c", "treatment": "elevated", "x": 3.054, "value": -1.520},
      {"class": "c", "treatment": "elevated", "x": 3.228, "value": -1.877},
      {"class": "c", "treatment": "elevated", "x": 3.096, "value": -2.327}
    ]
  },
  "layer": [
    {
      "data": {"name": "violin"},
      "mark": {"type": "area", "orient": "horizontal", "stroke": "#333333", "strokeWidth": 2.2, "strokeJoin": "round", "opacity": 1},
      "encoding": {
        "y": {
          "field": "value",
          "type": "quantitative",
          "scale": {"domain": [-4.791, 4.32], "nice": false, "zero": false},
          "axis": {"values": [-2.5, 0, 2.5], "format": ".1f", "labelExpr": "replace(datum.label, '\u2212', '-')", "labelPadding": 5, "title": "BAI2013", "titlePadding": 12}
        },
        "x": {
          "field": "edge",
          "type": "quantitative",
          "scale": {"domain": [0.4, 3.6], "nice": false, "zero": false},
          "axis": {"values": [1, 2, 3], "labelExpr": "datum.value == 1 ? 'a' : datum.value == 2 ? 'b' : 'c'", "labelPadding": 5, "title": "class", "titlePadding": 6}
        },
        "x2": {"field": "centre"},
        "fill": {
          "field": "treatment",
          "type": "nominal",
          "scale": {"domain": ["ambient", "elevated"], "range": ["#F5625D", "#1AB2B8"]},
          "legend": {
            "title": "treatment",
            "orient": "none",
            "legendX": 1048,
            "legendY": 362,
            "symbolType": "square",
            "symbolSize": 1600,
            "symbolStrokeColor": "#333333",
            "symbolStrokeWidth": 2.2,
            "symbolOpacity": 1,
            "labelFontSize": 23,
            "labelColor": "#000000",
            "labelOffset": 17,
            "titleFontSize": 29,
            "titleFontWeight": "normal",
            "titleColor": "#000000",
            "titlePadding": 12,
            "rowPadding": -2
          }
        },
        "detail": {"field": "class"}
      }
    },
    {
      "data": {"name": "medians"},
      "mark": {"type": "rule", "stroke": "#333333", "strokeWidth": 2.2},
      "encoding": {
        "y": {"field": "value", "type": "quantitative"},
        "x": {"field": "edge", "type": "quantitative"},
        "x2": {"field": "centre"}
      }
    },
    {
      "data": {"name": "points"},
      "mark": {"type": "point", "shape": "circle", "filled": true, "stroke": "#111111", "strokeWidth": 1.3, "size": 46, "opacity": 1},
      "encoding": {
        "x": {"field": "x", "type": "quantitative"},
        "y": {"field": "value", "type": "quantitative"},
        "fill": {"field": "treatment", "type": "nominal"}
      }
    }
  ]
}
